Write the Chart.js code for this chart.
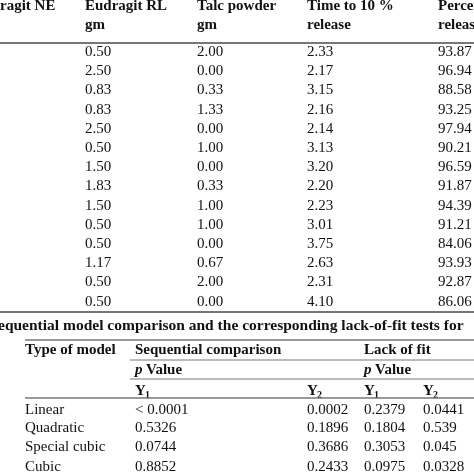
<!DOCTYPE html>
<html><head><meta charset="utf-8">
<script src="https://cdn.jsdelivr.net/npm/chart.js@4"></script>
<style>html,body{margin:0;padding:0;background:#fff}canvas{display:block}</style>
</head><body><canvas id="c" width="474" height="474"></canvas>
<script>
const headers1 = [["ragit NE",""],["Eudragit RL","gm"],["Talc powder","gm"],["Time to 10 %","release"],["Percent","release"]];
const eudragitRL = ["0.50","2.50","0.83","0.83","2.50","0.50","1.50","1.83","1.50","0.50","0.50","1.17","0.50","0.50"];
const talcPowder = ["2.00","0.00","0.33","1.33","0.00","1.00","0.00","0.33","1.00","1.00","0.00","0.67","2.00","0.00"];
const time10 = ["2.33","2.17","3.15","2.16","2.14","3.13","3.20","2.20","2.23","3.01","3.75","2.63","2.31","4.10"];
const percentRelease = ["93.87","96.94","88.58","93.25","97.94","90.21","96.59","91.87","94.39","91.21","84.06","93.93","92.87","86.06"];
const caption = "equential model comparison and the corresponding lack-of-fit tests for";
const models = ["Linear","Quadratic","Special cubic","Cubic"];
const seqY1 = ["< 0.0001","0.5326","0.0744","0.8852"];
const seqY2 = ["0.0002","0.1896","0.3686","0.2433"];
const lofY1 = ["0.2379","0.1804","0.3053","0.0975"];
const lofY2 = ["0.0441","0.539","0.045","0.0328"];

const F = '"Liberation Serif", "DejaVu Serif", serif';
const tablePlugin = {
  id:'table',
  afterDraw(chart){
    const ctx = chart.ctx;
    ctx.save();
    ctx.fillStyle='#fff'; ctx.fillRect(0,0,474,474);
    ctx.fillStyle='#111'; ctx.textBaseline='middle'; ctx.textAlign='left';
    const line=(x1,y,x2,w,c)=>{ctx.strokeStyle=c||'#666';ctx.lineWidth=w;ctx.beginPath();ctx.moveTo(x1,y);ctx.lineTo(x2,y);ctx.stroke();};
    // Table 1 header
    const cx=[0,85,197,307,438];
    ctx.font='bold 15px '+F;
    headers1.forEach((h,i)=>{ctx.fillText(h[0],cx[i],6);ctx.fillText(h[1],cx[i],25);});
    line(0,43,474,2,'#777');
    ctx.font='15px '+F;
    const cols=[eudragitRL,talcPowder,time10,percentRelease];
    for(let r=0;r<eudragitRL.length;r++){
      const y=52+r*19.2;
      cols.forEach((c,i)=>ctx.fillText(c[r],cx[i+1],y));
    }
    line(0,312,474,2,'#777');
    ctx.font='bold 15.5px '+F;
    ctx.fillText(caption,-2,326);
    // Table 2
    line(25,340,474,1.5,'#777');
    ctx.font='bold 15px '+F;
    ctx.fillText("Type of model",25,350);
    ctx.fillText("Sequential comparison",135,350);
    ctx.fillText("Lack of fit",364,350);
    line(130,360,474,1,'#777');
    ctx.font='bold italic 15px '+F; ctx.fillText("p",135,370); ctx.fillText("p",364,370);
    ctx.font='bold 15px '+F; ctx.fillText("Value",146,370); ctx.fillText("Value",375,370);
    line(130,379,474,1,'#777');
    const sub=(x,s)=>{ctx.font='bold 15px '+F;ctx.fillText("Y",x,391);ctx.font='bold 10px '+F;ctx.fillText(s,x+10,395);};
    sub(135,"1");sub(307,"2");sub(364,"1");sub(423,"2");
    line(25,398,474,1.5,'#777');
    ctx.font='15px '+F;
    const ys=[410,428,447,467];
    models.forEach((m,i)=>{
      ctx.fillText(m,25,ys[i]);ctx.fillText(seqY1[i],135,ys[i]);ctx.fillText(seqY2[i],307,ys[i]);
      ctx.fillText(lofY1[i],364,ys[i]);ctx.fillText(lofY2[i],423,ys[i]);
    });
    ctx.restore();
  }
};
new Chart(document.getElementById('c'),{
  type:'bar',
  data:{labels:[],datasets:[]},
  options:{responsive:false,animation:false,events:[],
    plugins:{legend:{display:false},tooltip:{enabled:false}},
    scales:{x:{display:false},y:{display:false}}},
  plugins:[tablePlugin]
});
</script></body></html>
